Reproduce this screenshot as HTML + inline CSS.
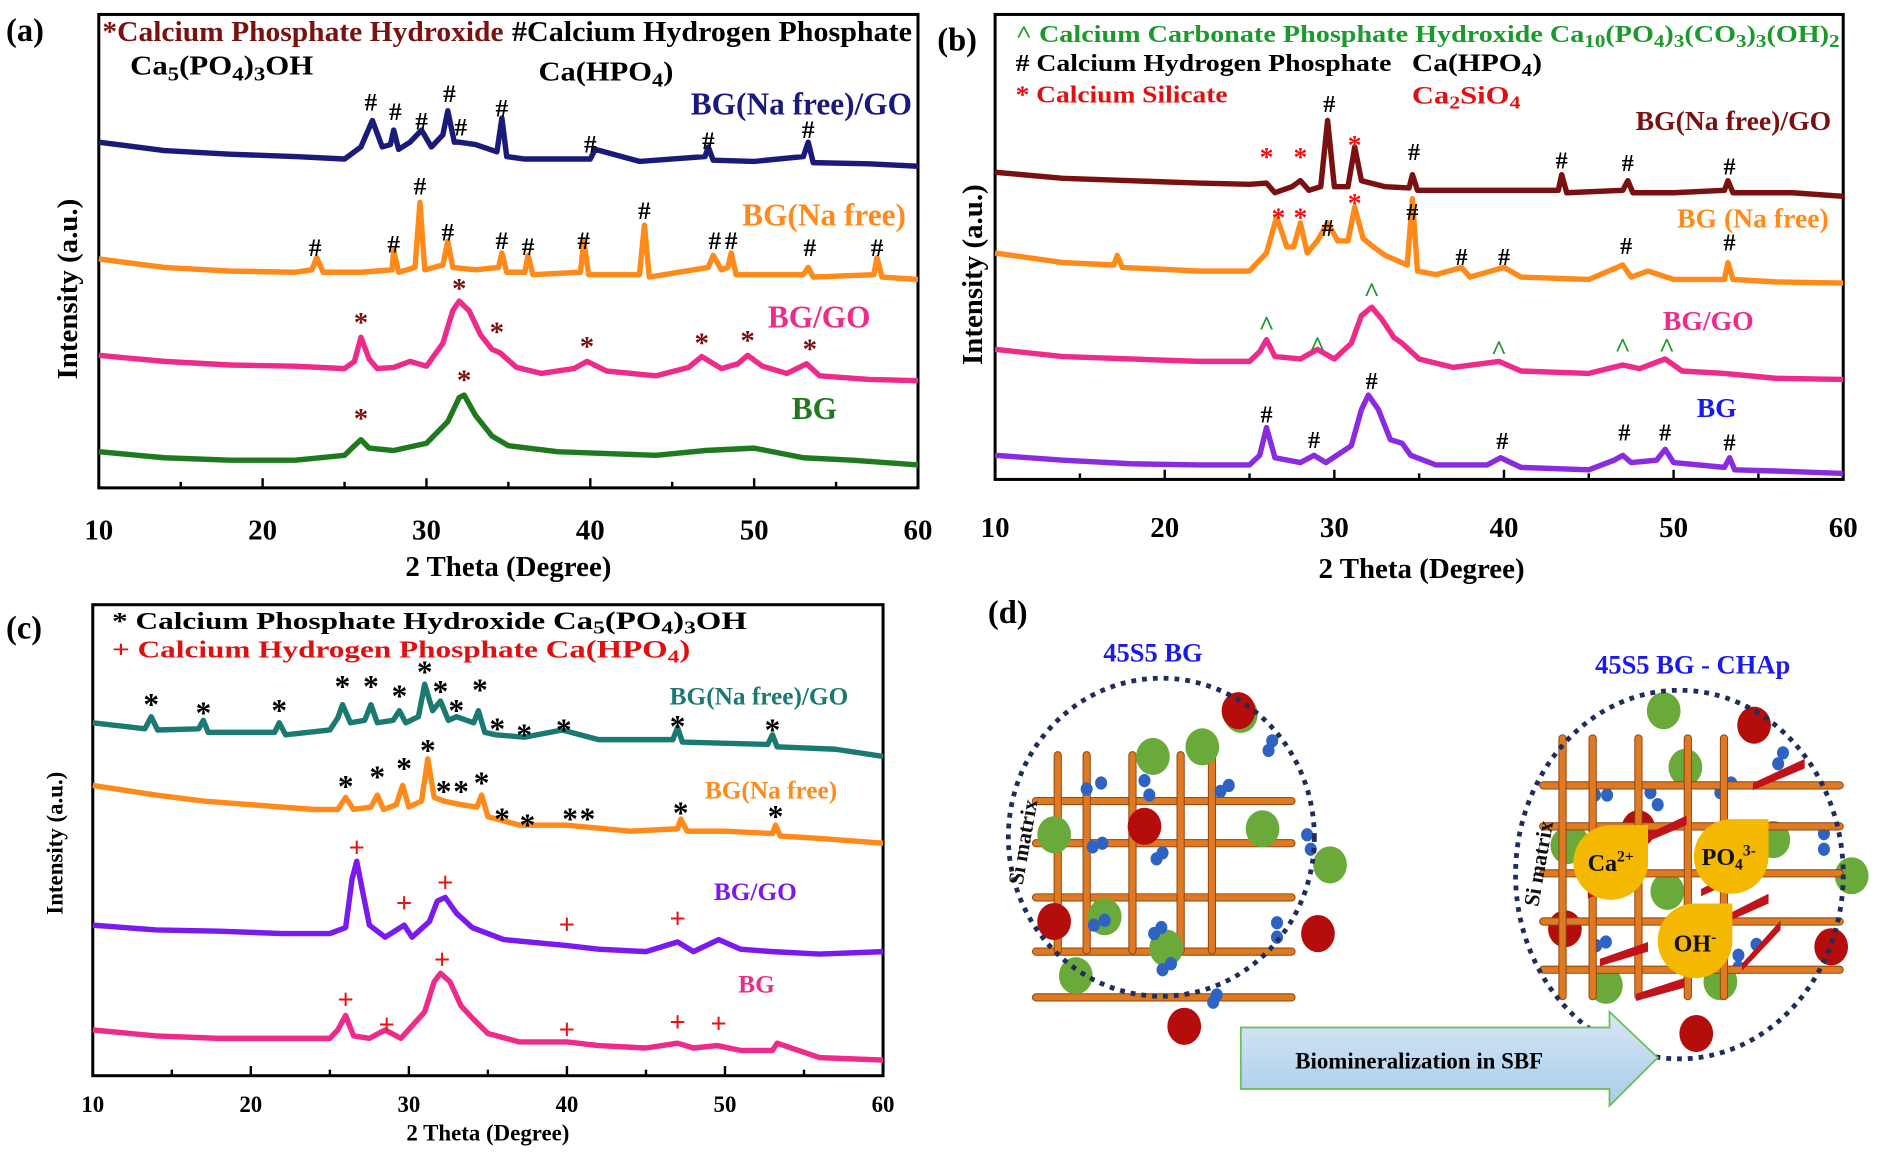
<!DOCTYPE html>
<html><head><meta charset="utf-8"><style>
html,body{margin:0;padding:0;background:#fff;}
svg{display:block;}
text{font-family:"Liberation Serif",serif;font-weight:bold;}
</style></head><body>
<svg id="fig" width="1889" height="1154" viewBox="0 0 1568 958" preserveAspectRatio="none">
<rect width="1568" height="958" fill="#fff"/>
<g id="pa"></g>
<g id="pb"></g>
<g id="pc"></g>

<g>
<text x="5" y="34" font-size="27" fill="#000">(a)</text>
<text x="85" y="34" font-size="24" fill="#7b1010" textLength="333" lengthAdjust="spacingAndGlyphs">*Calcium Phosphate Hydroxide</text>
<text x="425" y="34" font-size="24" fill="#000" textLength="332" lengthAdjust="spacingAndGlyphs">#Calcium Hydrogen Phosphate</text>
<text x="108" y="62" font-size="23" fill="#000" textLength="152" lengthAdjust="spacingAndGlyphs">Ca<tspan font-size="17" dy="5">5</tspan><tspan dy="-5">(PO</tspan><tspan font-size="17" dy="5">4</tspan><tspan dy="-5">)</tspan><tspan font-size="17" dy="5">3</tspan><tspan dy="-5">OH</tspan></text>
<text x="447" y="67" font-size="23" fill="#000" textLength="112" lengthAdjust="spacingAndGlyphs">Ca(HPO<tspan font-size="17" dy="5">4</tspan><tspan dy="-5">)</tspan></text>
</g>
<g>
<text x="778" y="42" font-size="27" fill="#000">(b)</text>
<text x="843" y="35" font-size="20" fill="#1a9a2a" textLength="684" lengthAdjust="spacingAndGlyphs">^ Calcium Carbonate Phosphate Hydroxide Ca<tspan font-size="15" dy="4">10</tspan><tspan dy="-4">(PO</tspan><tspan font-size="15" dy="4">4</tspan><tspan dy="-4">)</tspan><tspan font-size="15" dy="4">3</tspan><tspan dy="-4">(CO</tspan><tspan font-size="15" dy="4">3</tspan><tspan dy="-4">)</tspan><tspan font-size="15" dy="4">3</tspan><tspan dy="-4">(OH)</tspan><tspan font-size="15" dy="4">2</tspan></text>
<text x="843" y="59" font-size="20" fill="#000" textLength="312" lengthAdjust="spacingAndGlyphs"># Calcium Hydrogen Phosphate</text>
<text x="1172" y="59" font-size="21" fill="#000" textLength="108" lengthAdjust="spacingAndGlyphs">Ca(HPO<tspan font-size="15" dy="4">4</tspan><tspan dy="-4">)</tspan></text>
<text x="843" y="85" font-size="20" fill="#e01010" textLength="176" lengthAdjust="spacingAndGlyphs">* Calcium Silicate</text>
<text x="1172" y="86" font-size="21" fill="#e01010" textLength="90" lengthAdjust="spacingAndGlyphs">Ca<tspan font-size="15" dy="4">2</tspan><tspan dy="-4">SiO</tspan><tspan font-size="15" dy="4">4</tspan></text>
</g>
<g>
<text x="5" y="530" font-size="27" fill="#000">(c)</text>
<text x="93" y="522" font-size="20" fill="#000" textLength="527" lengthAdjust="spacingAndGlyphs">* Calcium Phosphate Hydroxide <tspan font-size="21">Ca</tspan><tspan font-size="15" dy="4">5</tspan><tspan font-size="21" dy="-4">(PO</tspan><tspan font-size="15" dy="4">4</tspan><tspan font-size="21" dy="-4">)</tspan><tspan font-size="15" dy="4">3</tspan><tspan font-size="21" dy="-4">OH</tspan></text>
<text x="93" y="546" font-size="20" fill="#e01010" textLength="480" lengthAdjust="spacingAndGlyphs">+ Calcium Hydrogen Phosphate <tspan font-size="21">Ca(HPO</tspan><tspan font-size="15" dy="4">4</tspan><tspan font-size="21" dy="-4">)</tspan></text>
</g>

<g>
<text x="820" y="517" font-size="27" fill="#000">(d)</text>
<text x="957" y="549" font-size="22" fill="#1a1aee" text-anchor="middle">45S5 BG</text>
<text x="1405" y="559" font-size="22" fill="#1a1aee" text-anchor="middle">45S5 BG - CHAp</text>
<g id="gridL"></g>
<g id="gridR"></g>
<ellipse cx="964" cy="695" rx="127" ry="132" fill="none" stroke="#1f2d5c" stroke-width="4" stroke-dasharray="4 5"/>
<ellipse cx="1394" cy="726" rx="136" ry="153" fill="none" stroke="#1f2d5c" stroke-width="4" stroke-dasharray="4 5"/>
<text transform="translate(855,700) rotate(-80)" font-size="18" fill="#111" text-anchor="middle">Si matrix</text>
<text transform="translate(1283,718) rotate(-80)" font-size="18" fill="#111" text-anchor="middle">Si matrix</text>
<g><path d="M1337 685 L1368 685 L1368 715 A31 31 0 1 1 1337 685Z" fill="#f5b800"/><text x="1337" y="723" font-size="20" text-anchor="middle" fill="#111">Ca<tspan font-size="13" dy="-8">2+</tspan></text></g>
<g><path d="M1437 680 L1468 680 L1468 712 A31 31 0 1 1 1437 680Z" fill="#f5b800"/><text x="1435" y="718" font-size="20" text-anchor="middle" fill="#111">PO<tspan font-size="13" dy="4">4</tspan><tspan font-size="13" dy="-12">3-</tspan></text></g>
<g><path d="M1407 750 L1438 750 L1438 782 A31 31 0 1 1 1407 750Z" fill="#f5b800"/><text x="1407" y="790" font-size="20" text-anchor="middle" fill="#111">OH<tspan font-size="13" dy="-8">-</tspan></text></g>
<g>
<defs><linearGradient id="ag" x1="0" y1="0" x2="0" y2="1"><stop offset="0" stop-color="#d6e8f6"/><stop offset="1" stop-color="#a9cbe8"/></linearGradient></defs>
<path d="M1030 853 L1336 853 L1336 840 L1376 878 L1336 918 L1336 904 L1030 904Z" fill="url(#ag)" stroke="#6fbf5a" stroke-width="1.5"/>
<text x="1178" y="887" font-size="19" text-anchor="middle" fill="#000">Biomineralization in SBF</text>
</g>
</g>
</svg>
<script>
const NS="http://www.w3.org/2000/svg";
function mk(parent,tag,attrs){const e=document.createElementNS(NS,tag);for(const k in attrs)e.setAttribute(k,attrs[k]);parent.appendChild(e);return e;}

// ---------- Panel (a) data ----------
const aBG_t=[10,14,18,22,25,25.6,26,26.5,28,30,31.3,32,32.3,33,34,35,38,40,44,47,50,53,56,60];
const aBG_v=[30,25,23,23,27,35,40,33,31,37,55,75,77,60,43,35,30,29,27,31,33,25,23,19];
const aBGGO_t=[10,14,18,22,25,25.6,26,26.5,27,28,29,30,31,31.6,32,32.6,33.3,34,34.5,35.5,37,39,39.8,41,44,46,46.8,48,49,49.6,50.5,52,53.2,54,57,60];
const aBGGO_v=[110,105,102,101,99,105,125,107,99,100,105,101,120,147,155,147,127,115,112,100,95,99,105,97,93,100,109,99,103,110,101,95,103,93,90,89];
const aNa_t=[10,14,18,22,23,23.3,23.7,26,27.9,28,28.3,29.3,29.6,29.9,31,31.3,31.6,33,34.4,34.6,34.9,36,36.2,36.5,39.4,39.6,39.9,43,43.3,43.6,47.2,47.5,48,48.4,48.6,48.9,53,53.3,53.6,57.3,57.5,57.8,60];
const aNa_v=[190,183,180,179,181,191,179,179,181,197,179,183,237,181,185,205,183,181,183,195,179,179,193,177,179,205,177,177,218,175,183,193,181,183,195,177,177,183,175,177,191,175,173];
const aNaGO_t=[10,14,18,22,25,26,26.7,27.3,27.8,28,28.3,29,29.7,30.3,31,31.3,31.7,32,33,34.3,34.6,34.9,36,40,40.3,43,47,47.2,47.5,50,53,53.3,53.6,57,60];
const aNaGO_v=[287,280,277,275,273,283,305,283,285,297,281,287,297,283,293,313,287,287,285,279,307,275,273,273,281,271,275,283,272,271,275,287,270,269,267];
const aMkBG_t=[26,32.3], aMkBG_v=[57,89];
const aMkBGGO_t=[26,32,34.3,39.8,46.8,49.6,53.4], aMkBGGO_v=[137,165,129,117,120,122,115];
const aMkNa_t=[23.2,28,29.6,31.3,34.6,36.2,39.6,43.3,47.6,48.6,53.4,57.5], aMkNa_v=[199,202,250,212,205,200,205,230,205,205,199,199];
const aMkNaGO_t=[26.6,28.1,29.7,31.4,32.1,34.6,40,47.2,53.3], aMkNaGO_v=[320,312,304,327,299,315,285,288,297];

// ---------- Panel (b) data ----------
const bBG_t=[10,14,18,22,25,25.6,26,26.5,28,28.8,29.5,31,31.6,32,32.6,33.3,34,34.5,36,39,39.8,41,45,46.5,47,47.5,49,49.5,50,53,53.3,53.6,56,60];
const bBG_v=[20,16,13,12,12,20,43,18,14,20,14,28,58,70,58,33,30,20,12,12,18,10,8,16,20,14,16,25,14,10,18,8,7,5];
const bBGGO_t=[10,14,18,22,25,25.6,26,26.5,28,29,30,31,31.6,32.2,32.8,33.5,34,35,37,39.7,41,45,47,48,49.5,50.5,53,56,60];
const bBGGO_v=[108,102,100,98,98,106,116,102,100,108,100,113,136,143,133,118,113,100,93,98,90,88,95,92,100,90,88,84,83];
const bNa_t=[10,14,17,17.2,17.5,22,25,26,26.6,27.2,27.6,28,28.4,29,29.6,30.2,30.8,31.2,31.7,32.3,33,34.3,34.6,34.9,36,37.5,38,40,41,45,47,47.5,48.5,50,53,53.2,53.5,56,60];
const bNa_v=[188,180,178,186,176,173,173,188,218,193,193,213,188,198,213,198,198,226,200,193,186,178,233,173,170,176,168,176,168,166,178,168,173,166,166,180,166,164,163];
const bNaGO_t=[10,14,18,22,25,26,26.5,27.5,28,28.5,29.2,29.6,30,30.8,31.2,31.6,33,34.4,34.6,34.9,38,43.2,43.4,43.7,47,47.3,47.6,50,53,53.2,53.5,57,60];
const bNaGO_v=[255,250,248,246,245,246,238,243,248,240,243,298,243,243,276,248,243,242,253,240,240,240,253,238,240,248,238,238,240,248,238,238,235];
const bMkTopStar_t=[26,28,31.2], bMkTopStar_v=[268,268,278];
const bMkTopHash_t=[29.7,34.7,43.4,47.3,53.3], bMkTopHash_v=[311,271,264,262,259];
const bMkNaStar_t=[26.7,28,31.2], bMkNaStar_v=[218,218,230];
const bMkNaHash_t=[29.6,34.6,37.5,40,47.2,53.3], bMkNaHash_v=[208,221,184,184,193,196];
const bMkGO_t=[26,29,32.2,39.7,47,49.6], bMkGO_v=[128,111,156,108,110,110];
const bMkBG_t=[26,28.8,32.2,39.9,47.1,49.5,53.3], bMkBG_v=[53,32,81,31,38,38,30];

// ---------- Panel (c) data ----------
const cBG_t=[10,14,18,22,25,25.5,26,26.5,27.5,28.5,29.5,31,31.6,32,32.6,33.3,34,35,37,40,42,45,47,48,49.5,51,53,53.3,56,60];
const cBG_v=[38,33,31,31,31,38,50,33,31,38,31,53,78,85,78,58,48,35,28,28,25,23,27,23,25,21,21,27,15,13];
const cBGGO_t=[10,14,18,22,25,26,26.4,26.7,27,27.5,28.5,29.7,30.2,31.3,31.8,32.3,33,34,36,40,42,45,47,48,49.6,51,53,56,60];
const cBGGO_v=[125,121,120,118,118,123,163,178,158,125,115,125,115,128,145,148,135,123,113,108,105,103,111,103,113,105,103,101,103];
const cNa_t=[10,14,17,20,24,25.5,26,26.5,27.6,28,28.4,29.2,29.6,30,30.8,31.2,31.6,32.2,33.3,34.3,34.6,35,37,40,44,47,47.2,47.6,50,53,53.2,53.5,56,60];
const cNa_v=[241,233,228,225,221,221,231,221,223,233,221,225,241,223,228,263,231,228,225,223,233,215,208,208,203,205,213,203,203,201,208,199,197,193];
const cNaGO_t=[10,13.3,13.7,14.1,16.7,17,17.3,21.5,21.8,22.2,25,25.5,25.8,26.3,27.2,27.6,28,29,29.4,29.8,30.6,31,31.5,32,32.5,33,34.1,34.4,34.8,35.5,37.3,39.7,42,46.7,47,47.3,52.7,53,53.3,57,60];
const cNaGO_v=[293,288,298,287,288,295,285,285,293,283,287,297,308,293,295,308,293,295,303,293,298,325,303,311,295,298,293,303,285,283,281,287,279,279,289,277,275,283,273,271,265];
const cMkNaGO_t=[13.7,17,21.8,25.8,27.6,29.4,31,32,33,34.5,35.6,37.3,39.8,47,53], cMkNaGO_v=[308,301,303,323,323,315,335,319,303,320,288,283,287,290,287];
const cMkNa_t=[26,28,29.7,31.2,32.2,33.3,34.6,35.9,37.5,40.2,41.3,47.2,53.2], cMkNa_v=[240,248,255,270,236,236,243,213,208,213,213,218,215];
const cMkGO_t=[26.7,29.7,32.3,40,47], cMkGO_v=[189,143,160,125,130];
const cMkBG_t=[26,28.6,32.1,40,47,49.6], cMkBG_v=[63,42,96,38,44,43];
const xTicks=[10,20,30,40,50,60];

function makeAxes(g,x0,x1,top,bottom){
  const ax={x:t=>x0+(t-10)/50*(x1-x0),y:v=>bottom-v};
  const r=mk(g,'rect',{x:x0,y:top,width:x1-x0,height:bottom-top,fill:'none',stroke:'#000','stroke-width':2.5});
  
  
  for(let t=10;t<=60;t+=5){
    const major=(t%10===0);
    const l=mk(g,'line',{x1:ax.x(t),x2:ax.x(t),y1:bottom,y2:bottom-(major?8:5),stroke:'#000','stroke-width':2});
    
    
  }
  return ax;
}
function tickLabels(g,ax,y,fs){
  xTicks.forEach(t=>{
    const e=mk(g,'text',{x:ax.x(t),y:y,'font-size':fs,'text-anchor':'middle',fill:'#000'});
    e.textContent=t;
    
    
  });
}
function series(g,ax,ts,vs,color,name){
  const d=ts.map((t,i)=>(i?'L':'M')+ax.x(t).toFixed(1)+' '+ax.y(vs[i]).toFixed(1)).join('');
  const p=mk(g,'path',{d:d,fill:'none',stroke:color,'stroke-width':4.5,'stroke-linejoin':'round'});
  
  
}
function markers(g,ax,ts,vs,sym,color,fs,name){
  ts.forEach((t,i)=>{
    const e=mk(g,'text',{x:ax.x(t),y:ax.y(vs[i]),'font-size':fs,'text-anchor':'middle','dominant-baseline':'central',fill:color});
    e.textContent=sym;
    
    
  });
}
function label(g,x,y,txt,color,fs,anchor,name){
  const e=mk(g,'text',{x:x,y:y,'font-size':fs,'text-anchor':anchor,fill:color});
  e.textContent=txt;
  
  
}
function ylab(g,x,y,fs,name){
  const e=mk(g,'text',{transform:`translate(${x},${y}) rotate(-90)`,'font-size':fs,'text-anchor':'middle',fill:'#000'});
  e.textContent='Intensity (a.u.)';
  
  
}

// Panel a
const ga=document.getElementById('pa');
const A=makeAxes(ga,82,762,12,405);
tickLabels(ga,A,448,24);
label(ga,422,478,'2 Theta (Degree)','#000',24,'middle','x-axis-title-a');
ylab(ga,64,240,24,'y-axis-title-a');
series(ga,A,aBG_t,aBG_v,'#1f7a1f','series-a-bg');
series(ga,A,aBGGO_t,aBGGO_v,'#ee2a8a','series-a-bg-go');
series(ga,A,aNa_t,aNa_v,'#ff8a1a','series-a-bg-na-free');
series(ga,A,aNaGO_t,aNaGO_v,'#1a1a7a','series-a-bg-na-free-go');
markers(ga,A,aMkBG_t,aMkBG_v,'*','#7b1010',24,'marker-a-bg');
markers(ga,A,aMkBGGO_t,aMkBGGO_v,'*','#7b1010',24,'marker-a-bg-go');
markers(ga,A,aMkNa_t,aMkNa_v,'#','#000',21,'marker-a-na-free');
markers(ga,A,aMkNaGO_t,aMkNaGO_v,'#','#000',21,'marker-a-na-free-go');
label(ga,757,95,'BG(Na free)/GO','#1a1a7a',26,'end','label-a-bg-na-free-go');
label(ga,752,187,'BG(Na free)','#ff8a1a',26,'end','label-a-bg-na-free');
label(ga,680,272,'BG/GO','#ee2a8a',26,'middle','label-a-bg-go');
label(ga,676,348,'BG','#1f7a1f',26,'middle','label-a-bg');

// Panel b
const gb=document.getElementById('pb');
const B=makeAxes(gb,826,1530,12,398);
tickLabels(gb,B,446,24);
label(gb,1180,480,'2 Theta (Degree)','#000',24,'middle','x-axis-title-b');
ylab(gb,815,228,24,'y-axis-title-b');
series(gb,B,bBG_t,bBG_v,'#8a2be2','series-b-bg');
series(gb,B,bBGGO_t,bBGGO_v,'#ee2a8a','series-b-bg-go');
series(gb,B,bNa_t,bNa_v,'#ff8a1a','series-b-bg-na-free');
series(gb,B,bNaGO_t,bNaGO_v,'#7a1010','series-b-bg-na-free-go');
markers(gb,B,bMkTopStar_t,bMkTopStar_v,'*','#ee1010',23,'marker-b-top-silicate');
markers(gb,B,bMkTopHash_t,bMkTopHash_v,'#','#000',20,'marker-b-top-cahpo4');
markers(gb,B,bMkNaStar_t,bMkNaStar_v,'*','#ee1010',23,'marker-b-na-silicate');
markers(gb,B,bMkNaHash_t,bMkNaHash_v,'#','#000',20,'marker-b-na-cahpo4');
markers(gb,B,bMkGO_t,bMkGO_v,'^','#1a9a2a',23,'marker-b-go-carbonate');
markers(gb,B,bMkBG_t,bMkBG_v,'#','#000',20,'marker-b-bg-cahpo4');
label(gb,1520,108,'BG(Na free)/GO','#7a1010',23,'end','label-b-bg-na-free-go');
label(gb,1518,189,'BG (Na free)','#ff8a1a',23,'end','label-b-bg-na-free');
label(gb,1418,274,'BG/GO','#ee2a8a',23,'middle','label-b-bg-go');
label(gb,1425,346,'BG','#1a1aee',23,'middle','label-b-bg');

// Panel c
const gc=document.getElementById('pc');
const C=makeAxes(gc,77,733,502,893);
tickLabels(gc,C,923,19);
label(gc,405,947,'2 Theta (Degree)','#000',19,'middle','x-axis-title-c');
ylab(gc,52,700,19,'y-axis-title-c');
series(gc,C,cBG_t,cBG_v,'#ee2a8a','series-c-bg');
series(gc,C,cBGGO_t,cBGGO_v,'#7a1aee','series-c-bg-go');
series(gc,C,cNa_t,cNa_v,'#ff8a1a','series-c-bg-na-free');
series(gc,C,cNaGO_t,cNaGO_v,'#1a7a72','series-c-bg-na-free-go');
markers(gc,C,cMkNaGO_t,cMkNaGO_v,'*','#000',26,'marker-c-na-free-go');
markers(gc,C,cMkNa_t,cMkNa_v,'*','#000',26,'marker-c-na-free');
markers(gc,C,cMkGO_t,cMkGO_v,'+','#ee1010',24,'marker-c-bg-go');
markers(gc,C,cMkBG_t,cMkBG_v,'+','#ee1010',24,'marker-c-bg');
label(gc,630,585,'BG(Na free)/GO','#1a7a72',21,'middle','label-c-bg-na-free-go');
label(gc,640,663,'BG(Na free)','#ff8a1a',21,'middle','label-c-bg-na-free');
label(gc,627,747,'BG/GO','#7a1aee',21,'middle','label-c-bg-go');
label(gc,628,824,'BG','#ee2a8a',21,'middle','label-c-bg');

// Panel d illustration
function grid(g,vx,vy0,vy1,hy,hx0,hx1){
  hy.forEach(y=>{const r=mk(g,'rect',{x:hx0,y:y-3,width:hx1-hx0,height:6,rx:3,fill:'#e07a22',stroke:'#8a4510','stroke-width':0.8});
    });
  vx.forEach(x=>{const r=mk(g,'rect',{x:x-3,y:vy0,width:6,height:vy1-vy0,rx:3,fill:'#e07a22',stroke:'#8a4510','stroke-width':0.8});
    });
}
function balls(g,list,color,r,name){
  list.forEach(p=>{const c=mk(g,'ellipse',{cx:p[0],cy:p[1],rx:r,ry:r*1.1,fill:color});
    });
}
const gL=document.getElementById('gridL'), gR=document.getElementById('gridR');
grid(gL,[878,902,940,980,1006],624,792,[665,700,745,790,828],857,1075);
grid(gR,[1297,1322,1360,1401,1431],610,830,[652,686,725,765,805],1278,1530);
balls(gL,[[1030,593],[957,628],[875,693],[1104,718],[917,761],[893,810],[968,787],[998,620],[1048,688]],'#6aaa3a',14,'green-ion');
balls(gL,[[1028,590],[950,686],[875,765],[1094,775],[983,852]],'#b50c0c',14,'red-ion');
balls(gL,[[1381,590],[1399,637],[1305,700],[1472,697],[1537,727],[1384,740],[1333,818],[1428,815],[1301,702]],'#6aaa3a',14,'green-ion');
balls(gL,[[1456,602],[1299,771],[1520,786],[1408,858],[1360,688]],'#b50c0c',14,'red-ion');
balls(gL,[[902,655],[914,650],[950,648],[954,660],[1013,657],[1020,652],[1053,623],[1056,615],[907,703],[915,700],[960,713],[965,708],[1085,693],[1088,705],[908,768],[917,764],[958,775],[964,770],[1060,766],[1060,778],[965,805],[972,800],[1007,832],[1010,826],[1324,660],[1334,660],[1370,658],[1376,668],[1428,658],[1437,650],[1476,634],[1480,625],[1514,692],[1514,705],[1325,785],[1333,782],[1443,793],[1443,803],[1458,784]],'#2e63c4',5,'blue-ion');
[[1362,695,1400,677],[1318,740,1360,722],[1412,738,1452,718],[1328,796,1368,782],[1446,800,1478,764],[1358,825,1398,812],[1432,760,1468,742],[1455,650,1498,630]].forEach(s=>{
  const p=mk(gR,'path',{d:`M${s[0]} ${s[1]} L${s[2]} ${s[3]} L${s[2]} ${s[3]+8} L${s[0]} ${s[1]+6}Z`,fill:'#c0141a'});
  
  
});
</script>
</body></html>
